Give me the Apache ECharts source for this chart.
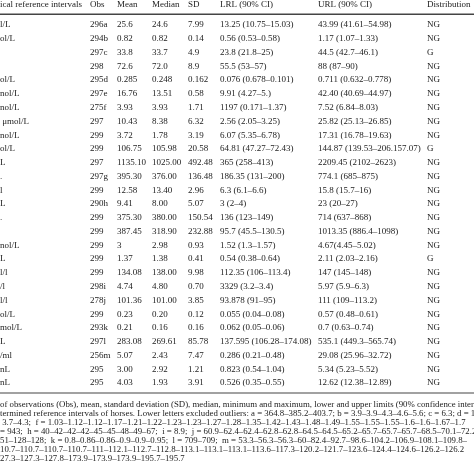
<!DOCTYPE html>
<html>
<head>
<meta charset="utf-8">
<script src="https://cdn.jsdelivr.net/npm/echarts@6/dist/echarts.min.js"></script>
<style>html,body{margin:0;padding:0;background:#fff;overflow:hidden}#chart{width:474px;height:474px}</style>
</head>
<body>
<div id="chart"></div>
<script>
// 表头
var headers = ['ical reference intervals', 'Obs', 'Mean', 'Median', 'SD', 'LRL (90% CI)', 'URL (90% CI)', 'Distribution'];
// 各列数据
var labels = ['l/L', 'ol/L', '', '', 'ol/L', 'nol/L', 'nol/L', ' \u03bcmol/L', 'nol/L', 'ol/L', 'L', '.', 'l', 'L', '.', '', 'nol/L', 'L', 'l/l', '/l', 'l/l', 'ol/L', 'mol/L', 'L', '/ml', 'nL', 'nL'];
var obs = ['296a', '294b', '297c', '298', '295d', '297e', '275f', '297', '299', '299', '297', '297g', '299', '290h', '299', '299', '299', '299', '299', '298i', '278j', '299', '293k', '297l', '256m', '295', '295'];
var mean = ['25.6', '0.82', '33.8', '72.6', '0.285', '16.76', '3.93', '10.43', '3.72', '106.75', '1135.10', '395.30', '12.58', '9.41', '375.30', '387.45', '3', '1.37', '134.08', '4.74', '101.36', '0.23', '0.21', '283.08', '5.07', '3.00', '4.03'];
var median = ['24.6', '0.82', '33.7', '72.0', '0.248', '13.51', '3.93', '8.38', '1.78', '105.98', '1025.00', '376.00', '13.40', '8.00', '380.00', '318.90', '2.98', '1.38', '138.00', '4.80', '101.00', '0.20', '0.16', '269.61', '2.43', '2.92', '1.93'];
var sd = ['7.99', '0.14', '4.9', '8.9', '0.162', '0.58', '1.71', '6.32', '3.19', '20.58', '492.48', '136.48', '2.96', '5.07', '150.54', '232.88', '0.93', '0.41', '9.98', '0.70', '3.85', '0.12', '0.16', '85.78', '7.47', '1.21', '3.91'];
var lrl = ['13.25 (10.75\u201315.03)', '0.56 (0.53\u20130.58)', '23.8 (21.8\u201325)', '55.5 (53\u201357)', '0.076 (0.678\u20130.101)', '9.91 (4.27\u20135.)', '1197 (0.171\u20131.37)', '2.56 (2.05\u20133.25)', '6.07 (5.35\u20136.78)', '64.81 (47.27\u201372.43)', '365 (258\u2013413)', '186.35 (131\u2013200)', '6.3 (6.1\u20136.6)', '3 (2\u20134)', '136 (123\u2013149)', '95.7 (45.5\u2013130.5)', '1.52 (1.3\u20131.57)', '0.54 (0.38\u20130.64)', '112.35 (106\u2013113.4)', '3329 (3.2\u20133.4)', '93.878 (91\u201395)', '0.055 (0.04\u20130.08)', '0.062 (0.05\u20130.06)', '137.595 (106.28\u2013174.08)', '0.286 (0.21\u20130.48)', '0.823 (0.54\u20131.04)', '0.526 (0.35\u20130.55)'];
var url = ['43.99 (41.61\u201354.98)', '1.17 (1.07\u20131.33)', '44.5 (42.7\u201346.1)', '88 (87\u201390)', '0.711 (0.632\u20130.778)', '42.40 (40.69\u201344.97)', '7.52 (6.84\u20138.03)', '25.82 (25.13\u201326.85)', '17.31 (16.78\u201319.63)', '144.87 (139.53\u2013206.157.07)', '2209.45 (2102\u20132623)', '774.1 (685\u2013875)', '15.8 (15.7\u201316)', '23 (20\u201327)', '714 (637\u2013868)', '1013.35 (886.4\u20131098)', '4.67(4.45\u20135.02)', '2.11 (2.03\u20132.16)', '147 (145\u2013148)', '5.97 (5.9\u20136.3)', '111 (109\u2013113.2)', '0.57 (0.48\u20130.61)', '0.7 (0.63\u20130.74)', '535.1 (449.3\u2013565.74)', '29.08 (25.96\u201332.72)', '5.34 (5.23\u20135.52)', '12.62 (12.38\u201312.89)'];
var dist = ['NG', 'NG', 'G', 'NG', 'NG', 'NG', 'NG', 'NG', 'NG', 'G', 'NG', 'NG', 'NG', 'NG', 'NG', 'NG', 'NG', 'G', 'NG', 'NG', 'NG', 'NG', 'NG', 'NG', 'NG', 'NG', 'NG'];
// 表注
var notes = [
	'of observations (Obs), mean, standard deviation (SD), median, minimum and maximum, lower and upper limits (90% confidence intervals)',
	'termined reference intervals of horses. Lower letters excluded outliers: a = 364.8\u2013385.2\u2013403.7; b = 3.9\u20133.9\u20134.3\u20134.6\u20135.6; c = 6.3; d = 1',
	' 3.7\u20134.3;  f = 1.03\u20131.12\u20131.12\u20131.17\u20131.21\u20131.22\u20131.23\u20131.23\u20131.27\u20131.28\u20131.35\u20131.42\u20131.43\u20131.48\u20131.49\u20131.55\u20131.55\u20131.55\u20131.6\u20131.6\u20131.67\u20131.7',
	'= 943;  h = 40\u201342\u201342\u201342\u201345\u201345\u201348\u201349\u201367;  i = 8.9;  j = 60.9\u201362.4\u201362.4\u201362.8\u201362.8\u201364.5\u201364.5\u201365.2\u201365.7\u201365.7\u201365.7\u201368.5\u201370.1\u201372.2\u2013',
	'51\u2013128\u2013128;  k = 0.8\u20130.86\u20130.86\u20130.9\u20130.9\u20130.95;  l = 709\u2013709;  m = 53.3\u201356.3\u201356.3\u201360\u201382.4\u201392.7\u201398.6\u2013104.2\u2013106.9\u2013108.1\u2013109.8\u2013',
	'10.7\u2013110.7\u2013110.7\u2013110.7\u2013111\u2013112.1\u2013112.7\u2013112.8\u2013113.1\u2013113.1\u2013113.1\u2013113.6\u2013117.3\u2013120.2\u2013121.7\u2013123.6\u2013124.4\u2013124.6\u2013126.2\u2013126.2',
	'27.3\u2013127.3\u2013127.8\u2013173.9\u2013173.9\u2013173.9\u2013195.7\u2013195.7'
];

var cols = [labels, obs, mean, median, sd, lrl, url, dist];
var colX = [0, 90, 117, 152, 188, 220, 318, 427];
var font = '"Liberation Serif", "DejaVu Serif", serif';
var rowTop = 25, rowH = 13.77;

var myChart = echarts.init(document.getElementById('chart'));
var els = [];
function txt(x, y, s, size) {
	els.push({ type: 'text', x: x, y: y, style: { text: s, font: (size || 9) + 'px ' + font, fill: '#222', textVerticalAlign: 'middle' } });
}
headers.forEach(function(h, i) { txt(colX[i], 5, h); });
els.push({ type: 'rect', shape: { x: 0, y: 13.5, width: 474, height: 1.5 }, style: { fill: '#444' } });
cols.forEach(function(col, c) {
	col.forEach(function(v, r) { txt(colX[c], rowTop + r * rowH, v); });
});
els.push({ type: 'rect', shape: { x: 0, y: 392.5, width: 474, height: 1 }, style: { fill: '#444' } });
notes.forEach(function(n, i) { txt(0, 405 + i * 9, n, 8.8); });

myChart.setOption({ animation: false, graphic: { elements: els } });
</script>
</body>
</html>
